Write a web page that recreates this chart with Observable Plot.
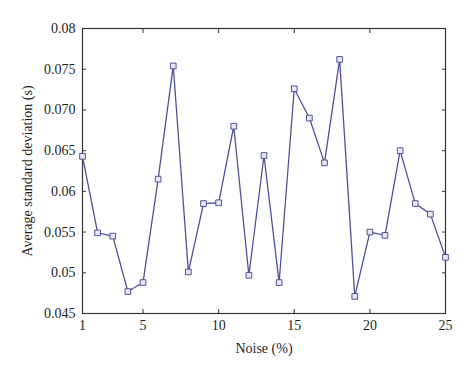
<!DOCTYPE html>
<html>
<head>
<meta charset="utf-8">
<script src="https://cdn.jsdelivr.net/npm/d3@7"></script>
<script src="https://cdn.jsdelivr.net/npm/@observablehq/plot@0.6"></script>
<style>
  html, body { margin: 0; padding: 0; background: #fff; }
  #chart svg { display: block; }
</style>
</head>
<body>
<div id="chart"></div>
<script>
const noise = [1,2,3,4,5,6,7,8,9,10,11,12,13,14,15,16,17,18,19,20,21,22,23,24,25];
const avgStd = [0.0643,0.0549,0.0545,0.0477,0.0488,0.0615,0.0754,0.0501,0.0585,0.0586,
                0.0680,0.0497,0.0644,0.0488,0.0726,0.0690,0.0635,0.0762,0.0471,0.0550,
                0.0546,0.0650,0.0585,0.0572,0.0519];
const xTicks = [1,5,10,15,20,25];
const yTicks = [0.045,0.05,0.055,0.06,0.065,0.07,0.075,0.08];
const yTickLabels = ["0.045","0.05","0.055","0.06","0.065","0.070","0.075","0.08"];

const data = noise.map((n, i) => ({noise: n, value: avgStd[i]}));
const lineColor = "#50509a";
const ink = "#1e1e1e";

const chart = Plot.plot({
  width: 474,
  height: 377,
  marginLeft: 82,
  marginRight: 29,
  marginTop: 28,
  marginBottom: 64,
  style: {fontFamily: "'Liberation Serif', serif", fontSize: "14px", color: ink, background: "#fff"},
  x: {domain: [1, 25]},
  y: {domain: [0.045, 0.08]},
  marks: [
    Plot.frame({stroke: "#333", strokeWidth: 1.2}),
    Plot.axisX(xTicks, {anchor: "bottom", tickSize: -4, tickPadding: 11, fontSize: 14, stroke: "#333",
      label: "Noise (%)", labelAnchor: "center", labelArrow: "none", labelOffset: 39}),
    Plot.axisX(xTicks, {anchor: "top", tickSize: -4, tickFormat: () => "", label: null, stroke: "#333"}),
    Plot.axisY(yTicks, {anchor: "left", tickSize: -4, tickPadding: 11, fontSize: 14, stroke: "#333",
      tickFormat: (d) => yTickLabels[yTicks.indexOf(d)],
      label: "Average standard deviation (s)", labelAnchor: "center", labelArrow: "none", labelOffset: 60}),
    Plot.axisY(yTicks, {anchor: "right", tickSize: -4, tickFormat: () => "", label: null, stroke: "#333"}),
    Plot.line(data, {x: "noise", y: "value", stroke: lineColor, strokeWidth: 1.3}),
    Plot.dot(data, {x: "noise", y: "value", symbol: "square", r: 3.2, stroke: lineColor, strokeWidth: 1, fill: "#e8e8f6"})
  ]
});
document.getElementById("chart").appendChild(chart);
</script>
</body>
</html>
